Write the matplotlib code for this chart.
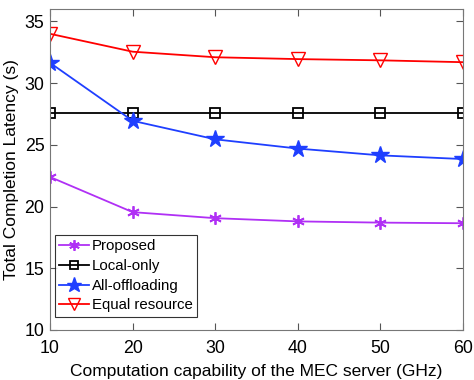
import matplotlib
matplotlib.use("Agg")
import matplotlib.pyplot as plt

x = [10, 20, 30, 40, 50, 60]
proposed = [22.4, 19.55, 19.06, 18.8, 18.7, 18.65]
local_only = [27.6, 27.6, 27.6, 27.6, 27.6, 27.6]
all_offloading = [31.65, 26.95, 25.45, 24.7, 24.15, 23.85]
equal_resource = [34.0, 32.55, 32.1, 31.95, 31.85, 31.7]

plt.rcParams['font.family'] = ['Liberation Sans', 'DejaVu Sans']

fig = plt.figure(figsize=(4.74, 3.8), dpi=100)
ax = fig.add_axes([0.1055, 0.1316, 0.8715, 0.8444])

ax.plot(x, proposed, color='#B030F5', marker=(6, 2, 0), markersize=9, mew=1.3, lw=1.3, label='Proposed')
ax.plot(x, local_only, color='black', marker='s', markersize=7, mfc='none', mew=1.3, lw=1.3, label='Local-only')
ax.plot(x, all_offloading, color='#1F3FFF', marker='*', markersize=13, lw=1.3, label='All-offloading')
ax.plot(x, equal_resource, color='red', marker='v', markersize=10, mfc='none', mew=1.0, lw=1.3, label='Equal resource')

ax.set_xlim(10, 60)
ax.set_ylim(10, 36)
ax.set_xticks(x)
ax.set_yticks([10, 15, 20, 25, 30, 35])
ax.tick_params(direction='in', top=True, right=True, labelsize=12.8, length=5, color='#555555')
ax.tick_params(axis='x', pad=7)
ax.tick_params(axis='y', pad=4)
for s in ax.spines.values():
    s.set_color('#777777')
    s.set_linewidth(0.8)
ax.set_xlabel('Computation capability of the MEC server (GHz)', fontsize=12.5, labelpad=5)
ax.set_ylabel('Total Completion Latency (s)', fontsize=12.5, labelpad=4)
leg = ax.legend(loc='lower left', bbox_to_anchor=(0.012, 0.0405), borderaxespad=0,
                fontsize=10.8, fancybox=False, edgecolor='black', markerscale=0.85,
                handlelength=2.0, handletextpad=0.15, borderpad=0.3, labelspacing=0.38)
leg.get_frame().set_linewidth(0.8)

fig.savefig('out.png', dpi=100)
